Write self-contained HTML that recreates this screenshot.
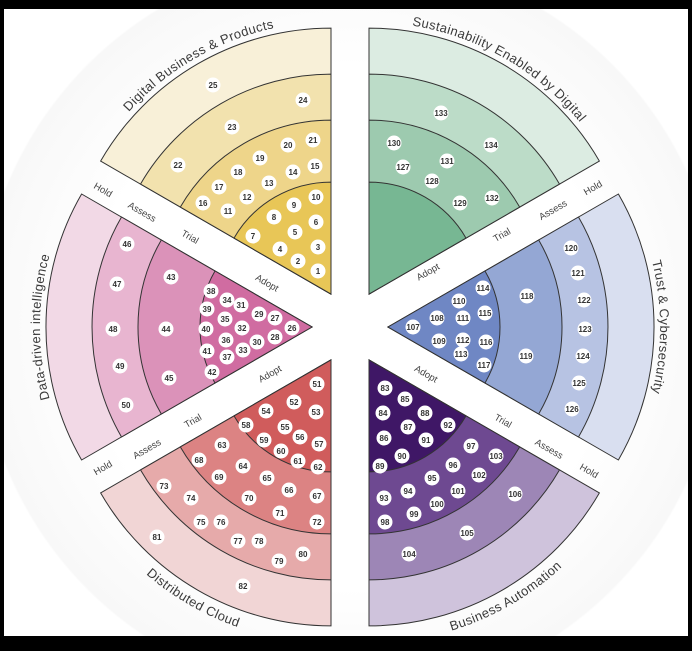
<!DOCTYPE html>
<html><head><meta charset="utf-8"><style>
html,body{margin:0;padding:0;background:#fff;width:692px;height:651px;overflow:hidden}
svg{display:block}
.t{font-family:"Liberation Sans",sans-serif;font-size:13px;fill:#3a3a3a;letter-spacing:.4px}
.r{font-family:"Liberation Sans",sans-serif;font-size:9.5px;fill:#444;text-anchor:middle}
.d circle{fill:#fff}
.d text{font-family:"Liberation Sans",sans-serif;font-size:8px;font-weight:bold;fill:#333;text-anchor:middle}
path.s{stroke:#333;stroke-width:1}
</style></head><body>
<svg width="692" height="651" viewBox="0 0 692 651" xmlns="http://www.w3.org/2000/svg">
<defs>
<radialGradient id="bg" cx="350" cy="327" r="372" gradientUnits="userSpaceOnUse">
<stop offset="0.7" stop-color="#ffffff"/><stop offset="0.995" stop-color="#f8f8f8"/><stop offset="1" stop-color="#ffffff"/></radialGradient>
<path id="pDig" d="M95.4,158.1 A272,272 0 0 1 331,22.1"/>
<path id="pSus" d="M369,22.1 A272,272 0 0 1 604.6,158.1"/>
<path id="pTru" d="M623.6,191 A272,272 0 0 1 623.6,463"/>
<path id="pDD" d="M76.4,463 A272,272 0 0 1 76.4,191"/>
<path id="pBA" d="M369,642.9 A283,283 0 0 0 614.1,501.4"/>
<path id="pDC" d="M85.9,501.4 A283,283 0 0 0 331,642.9"/>
</defs>
<rect width="692" height="651" fill="url(#bg)"/>

<path class="s" fill="#f8f0d8" d="M331,294.1 L331,28.1 A266,266 0 0 0 100.6,161.1 Z"/>
<path class="s" fill="#f2e2ae" d="M331,294.1 L331,74.1 A220,220 0 0 0 140.5,184.1 Z"/>
<path class="s" fill="#eed58a" d="M331,294.1 L331,120.1 A174,174 0 0 0 180.3,207.1 Z"/>
<path class="s" fill="#e8c657" d="M331,294.1 L331,182.1 A112,112 0 0 0 234,238.1 Z"/>
<path class="s" fill="#dcece2" d="M369,294.1 L369,28.1 A266,266 0 0 1 599.4,161.1 Z"/>
<path class="s" fill="#bcdcc8" d="M369,294.1 L369,74.1 A220,220 0 0 1 559.5,184.1 Z"/>
<path class="s" fill="#9dcaaf" d="M369,294.1 L369,120.1 A174,174 0 0 1 519.7,207.1 Z"/>
<path class="s" fill="#77b793" d="M369,294.1 L369,182.1 A112,112 0 0 1 466,238.1 Z"/>
<path class="s" fill="#d9dff0" d="M388,327 L618.4,194 A266,266 0 0 1 618.4,460 Z"/>
<path class="s" fill="#b7c3e3" d="M388,327 L578.5,217 A220,220 0 0 1 578.5,437 Z"/>
<path class="s" fill="#94a7d4" d="M388,327 L538.7,240 A174,174 0 0 1 538.7,414 Z"/>
<path class="s" fill="#6f87c4" d="M388,327 L485,271 A112,112 0 0 1 485,383 Z"/>
<path class="s" fill="#cfc3dc" d="M369,359.9 L599.4,492.9 A266,266 0 0 1 369,625.9 Z"/>
<path class="s" fill="#9d86b6" d="M369,359.9 L559.5,469.9 A220,220 0 0 1 369,579.9 Z"/>
<path class="s" fill="#6e4991" d="M369,359.9 L519.7,446.9 A174,174 0 0 1 369,533.9 Z"/>
<path class="s" fill="#3f1766" d="M369,359.9 L466,415.9 A112,112 0 0 1 369,471.9 Z"/>
<path class="s" fill="#f1d5d5" d="M331,359.9 L331,625.9 A266,266 0 0 1 100.6,492.9 Z"/>
<path class="s" fill="#e6aaaa" d="M331,359.9 L331,579.9 A220,220 0 0 1 140.5,469.9 Z"/>
<path class="s" fill="#dc8383" d="M331,359.9 L331,533.9 A174,174 0 0 1 180.3,446.9 Z"/>
<path class="s" fill="#d05c5c" d="M331,359.9 L331,471.9 A112,112 0 0 1 234,415.9 Z"/>
<path class="s" fill="#f2d9e6" d="M312,327 L81.6,460 A266,266 0 0 1 81.6,194 Z"/>
<path class="s" fill="#e8b5d0" d="M312,327 L121.5,437 A220,220 0 0 1 121.5,217 Z"/>
<path class="s" fill="#db92b9" d="M312,327 L161.3,414 A174,174 0 0 1 161.3,240 Z"/>
<path class="s" fill="#d06ca1" d="M312,327 L215,383 A112,112 0 0 1 215,271 Z"/>

<text class="t"><textPath href="#pDig" startOffset="50%" text-anchor="middle">Digital Business &amp; Products</textPath></text>
<text class="t"><textPath href="#pSus" startOffset="50%" text-anchor="middle">Sustainability Enabled by Digital</textPath></text>
<text class="t"><textPath href="#pTru" startOffset="50%" text-anchor="middle">Trust &amp; Cybersecurity</textPath></text>
<text class="t"><textPath href="#pDD" startOffset="50%" text-anchor="middle">Data-driven intelligence</textPath></text>
<text class="t"><textPath href="#pBA" startOffset="50%" text-anchor="middle">Business Automation</textPath></text>
<text class="t"><textPath href="#pDC" startOffset="50%" text-anchor="middle">Distributed Cloud</textPath></text>

<g class="r">
<text transform="translate(103,190) rotate(30)" dy="3">Hold</text>
<text transform="translate(142,212) rotate(30)" dy="3">Assess</text>
<text transform="translate(190,237) rotate(30)" dy="3">Trial</text>
<text transform="translate(267,283) rotate(30)" dy="3">Adopt</text>
<text transform="translate(428,272) rotate(-30)" dy="3">Adopt</text>
<text transform="translate(502,235) rotate(-30)" dy="3">Trial</text>
<text transform="translate(553,210) rotate(-30)" dy="3">Assess</text>
<text transform="translate(593,188) rotate(-30)" dy="3">Hold</text>
<text transform="translate(426,374) rotate(30)" dy="3">Adopt</text>
<text transform="translate(503,421) rotate(30)" dy="3">Trial</text>
<text transform="translate(549,449) rotate(30)" dy="3">Assess</text>
<text transform="translate(589,471) rotate(30)" dy="3">Hold</text>
<text transform="translate(270,374) rotate(-30)" dy="3">Adopt</text>
<text transform="translate(193,421) rotate(-30)" dy="3">Trial</text>
<text transform="translate(147,449) rotate(-30)" dy="3">Assess</text>
<text transform="translate(103,468) rotate(-30)" dy="3">Hold</text>
</g>

<g class="d">
<circle cx="213" cy="85" r="7.5"/><text x="213" y="88">25</text>
<circle cx="303" cy="100" r="7.5"/><text x="303" y="103">24</text>
<circle cx="232" cy="127" r="7.5"/><text x="232" y="130">23</text>
<circle cx="178" cy="165" r="7.5"/><text x="178" y="168">22</text>
<circle cx="313" cy="140" r="7.5"/><text x="313" y="143">21</text>
<circle cx="288" cy="145" r="7.5"/><text x="288" y="148">20</text>
<circle cx="260" cy="158" r="7.5"/><text x="260" y="161">19</text>
<circle cx="238" cy="172" r="7.5"/><text x="238" y="175">18</text>
<circle cx="219" cy="187" r="7.5"/><text x="219" y="190">17</text>
<circle cx="203" cy="203" r="7.5"/><text x="203" y="206">16</text>
<circle cx="315" cy="166" r="7.5"/><text x="315" y="169">15</text>
<circle cx="293" cy="172" r="7.5"/><text x="293" y="175">14</text>
<circle cx="269" cy="183" r="7.5"/><text x="269" y="186">13</text>
<circle cx="247" cy="197" r="7.5"/><text x="247" y="200">12</text>
<circle cx="228" cy="211" r="7.5"/><text x="228" y="214">11</text>
<circle cx="316" cy="197" r="7.5"/><text x="316" y="200">10</text>
<circle cx="294" cy="205" r="7.5"/><text x="294" y="208">9</text>
<circle cx="274" cy="217" r="7.5"/><text x="274" y="220">8</text>
<circle cx="253" cy="236" r="7.5"/><text x="253" y="239">7</text>
<circle cx="316" cy="222" r="7.5"/><text x="316" y="225">6</text>
<circle cx="295" cy="232" r="7.5"/><text x="295" y="235">5</text>
<circle cx="280" cy="249" r="7.5"/><text x="280" y="252">4</text>
<circle cx="318" cy="247" r="7.5"/><text x="318" y="250">3</text>
<circle cx="298" cy="261" r="7.5"/><text x="298" y="264">2</text>
<circle cx="318" cy="271" r="7.5"/><text x="318" y="274">1</text>
<circle cx="127" cy="244" r="7.5"/><text x="127" y="247">46</text>
<circle cx="117" cy="284" r="7.5"/><text x="117" y="287">47</text>
<circle cx="171" cy="277" r="7.5"/><text x="171" y="280">43</text>
<circle cx="211" cy="291" r="7.5"/><text x="211" y="294">38</text>
<circle cx="227" cy="300" r="7.5"/><text x="227" y="303">34</text>
<circle cx="241" cy="305" r="7.5"/><text x="241" y="308">31</text>
<circle cx="207" cy="309" r="7.5"/><text x="207" y="312">39</text>
<circle cx="225" cy="319" r="7.5"/><text x="225" y="322">35</text>
<circle cx="259" cy="314" r="7.5"/><text x="259" y="317">29</text>
<circle cx="275" cy="318" r="7.5"/><text x="275" y="321">27</text>
<circle cx="292" cy="328" r="7.5"/><text x="292" y="331">26</text>
<circle cx="113" cy="329" r="7.5"/><text x="113" y="332">48</text>
<circle cx="166" cy="329" r="7.5"/><text x="166" y="332">44</text>
<circle cx="206" cy="329" r="7.5"/><text x="206" y="332">40</text>
<circle cx="242" cy="328" r="7.5"/><text x="242" y="331">32</text>
<circle cx="226" cy="340" r="7.5"/><text x="226" y="343">36</text>
<circle cx="257" cy="342" r="7.5"/><text x="257" y="345">30</text>
<circle cx="275" cy="337" r="7.5"/><text x="275" y="340">28</text>
<circle cx="207" cy="351" r="7.5"/><text x="207" y="354">41</text>
<circle cx="227" cy="357" r="7.5"/><text x="227" y="360">37</text>
<circle cx="243" cy="350" r="7.5"/><text x="243" y="353">33</text>
<circle cx="212" cy="372" r="7.5"/><text x="212" y="375">42</text>
<circle cx="120" cy="366" r="7.5"/><text x="120" y="369">49</text>
<circle cx="169" cy="378" r="7.5"/><text x="169" y="381">45</text>
<circle cx="126" cy="405" r="7.5"/><text x="126" y="408">50</text>
<circle cx="317" cy="384" r="7.5"/><text x="317" y="387">51</text>
<circle cx="294" cy="402" r="7.5"/><text x="294" y="405">52</text>
<circle cx="316" cy="412" r="7.5"/><text x="316" y="415">53</text>
<circle cx="266" cy="411" r="7.5"/><text x="266" y="414">54</text>
<circle cx="246" cy="425" r="7.5"/><text x="246" y="428">58</text>
<circle cx="285" cy="427" r="7.5"/><text x="285" y="430">55</text>
<circle cx="300" cy="437" r="7.5"/><text x="300" y="440">56</text>
<circle cx="319" cy="444" r="7.5"/><text x="319" y="447">57</text>
<circle cx="264" cy="440" r="7.5"/><text x="264" y="443">59</text>
<circle cx="281" cy="451" r="7.5"/><text x="281" y="454">60</text>
<circle cx="298" cy="461" r="7.5"/><text x="298" y="464">61</text>
<circle cx="318" cy="467" r="7.5"/><text x="318" y="470">62</text>
<circle cx="222" cy="445" r="7.5"/><text x="222" y="448">63</text>
<circle cx="199" cy="460" r="7.5"/><text x="199" y="463">68</text>
<circle cx="243" cy="466" r="7.5"/><text x="243" y="469">64</text>
<circle cx="219" cy="477" r="7.5"/><text x="219" y="480">69</text>
<circle cx="267" cy="478" r="7.5"/><text x="267" y="481">65</text>
<circle cx="289" cy="490" r="7.5"/><text x="289" y="493">66</text>
<circle cx="317" cy="496" r="7.5"/><text x="317" y="499">67</text>
<circle cx="249" cy="498" r="7.5"/><text x="249" y="501">70</text>
<circle cx="280" cy="513" r="7.5"/><text x="280" y="516">71</text>
<circle cx="317" cy="522" r="7.5"/><text x="317" y="525">72</text>
<circle cx="164" cy="486" r="7.5"/><text x="164" y="489">73</text>
<circle cx="191" cy="498" r="7.5"/><text x="191" y="501">74</text>
<circle cx="201" cy="522" r="7.5"/><text x="201" y="525">75</text>
<circle cx="221" cy="522" r="7.5"/><text x="221" y="525">76</text>
<circle cx="238" cy="541" r="7.5"/><text x="238" y="544">77</text>
<circle cx="259" cy="541" r="7.5"/><text x="259" y="544">78</text>
<circle cx="279" cy="561" r="7.5"/><text x="279" y="564">79</text>
<circle cx="303" cy="554" r="7.5"/><text x="303" y="557">80</text>
<circle cx="157" cy="537" r="7.5"/><text x="157" y="540">81</text>
<circle cx="243" cy="586" r="7.5"/><text x="243" y="589">82</text>
<circle cx="385" cy="388" r="7.5"/><text x="385" y="391">83</text>
<circle cx="405" cy="399" r="7.5"/><text x="405" y="402">85</text>
<circle cx="383" cy="413" r="7.5"/><text x="383" y="416">84</text>
<circle cx="425" cy="413" r="7.5"/><text x="425" y="416">88</text>
<circle cx="408" cy="427" r="7.5"/><text x="408" y="430">87</text>
<circle cx="448" cy="425" r="7.5"/><text x="448" y="428">92</text>
<circle cx="384" cy="438" r="7.5"/><text x="384" y="441">86</text>
<circle cx="426" cy="440" r="7.5"/><text x="426" y="443">91</text>
<circle cx="402" cy="456" r="7.5"/><text x="402" y="459">90</text>
<circle cx="380" cy="466" r="7.5"/><text x="380" y="469">89</text>
<circle cx="471" cy="446" r="7.5"/><text x="471" y="449">97</text>
<circle cx="496" cy="456" r="7.5"/><text x="496" y="459">103</text>
<circle cx="453" cy="465" r="7.5"/><text x="453" y="468">96</text>
<circle cx="479" cy="475" r="7.5"/><text x="479" y="478">102</text>
<circle cx="432" cy="478" r="7.5"/><text x="432" y="481">95</text>
<circle cx="458" cy="491" r="7.5"/><text x="458" y="494">101</text>
<circle cx="408" cy="491" r="7.5"/><text x="408" y="494">94</text>
<circle cx="384" cy="498" r="7.5"/><text x="384" y="501">93</text>
<circle cx="437" cy="504" r="7.5"/><text x="437" y="507">100</text>
<circle cx="414" cy="514" r="7.5"/><text x="414" y="517">99</text>
<circle cx="385" cy="522" r="7.5"/><text x="385" y="525">98</text>
<circle cx="515" cy="494" r="7.5"/><text x="515" y="497">106</text>
<circle cx="467" cy="533" r="7.5"/><text x="467" y="536">105</text>
<circle cx="409" cy="554" r="7.5"/><text x="409" y="557">104</text>
<circle cx="483" cy="288" r="7.5"/><text x="483" y="291">114</text>
<circle cx="459" cy="301" r="7.5"/><text x="459" y="304">110</text>
<circle cx="437" cy="318" r="7.5"/><text x="437" y="321">108</text>
<circle cx="463" cy="318" r="7.5"/><text x="463" y="321">111</text>
<circle cx="485" cy="313" r="7.5"/><text x="485" y="316">115</text>
<circle cx="413" cy="327" r="7.5"/><text x="413" y="330">107</text>
<circle cx="527" cy="296" r="7.5"/><text x="527" y="299">118</text>
<circle cx="571" cy="248" r="7.5"/><text x="571" y="251">120</text>
<circle cx="578" cy="273" r="7.5"/><text x="578" y="276">121</text>
<circle cx="584" cy="300" r="7.5"/><text x="584" y="303">122</text>
<circle cx="585" cy="329" r="7.5"/><text x="585" y="332">123</text>
<circle cx="583" cy="356" r="7.5"/><text x="583" y="359">124</text>
<circle cx="579" cy="383" r="7.5"/><text x="579" y="386">125</text>
<circle cx="572" cy="409" r="7.5"/><text x="572" y="412">126</text>
<circle cx="439" cy="341" r="7.5"/><text x="439" y="344">109</text>
<circle cx="463" cy="340" r="7.5"/><text x="463" y="343">112</text>
<circle cx="486" cy="342" r="7.5"/><text x="486" y="345">116</text>
<circle cx="461" cy="354" r="7.5"/><text x="461" y="357">113</text>
<circle cx="484" cy="365" r="7.5"/><text x="484" y="368">117</text>
<circle cx="526" cy="356" r="7.5"/><text x="526" y="359">119</text>
<circle cx="441" cy="113" r="7.5"/><text x="441" y="116">133</text>
<circle cx="394" cy="143" r="7.5"/><text x="394" y="146">130</text>
<circle cx="491" cy="145" r="7.5"/><text x="491" y="148">134</text>
<circle cx="447" cy="161" r="7.5"/><text x="447" y="164">131</text>
<circle cx="403" cy="167" r="7.5"/><text x="403" y="170">127</text>
<circle cx="432" cy="181" r="7.5"/><text x="432" y="184">128</text>
<circle cx="460" cy="203" r="7.5"/><text x="460" y="206">129</text>
<circle cx="492" cy="198" r="7.5"/><text x="492" y="201">132</text>
</g>

<rect x="0" y="0" width="692" height="9" fill="#000"/>
<rect x="0" y="0" width="4" height="651" fill="#000"/>
<rect x="688" y="0" width="4" height="651" fill="#000"/>
<rect x="0" y="636" width="692" height="15" fill="#000"/>
</svg>
</body></html>
